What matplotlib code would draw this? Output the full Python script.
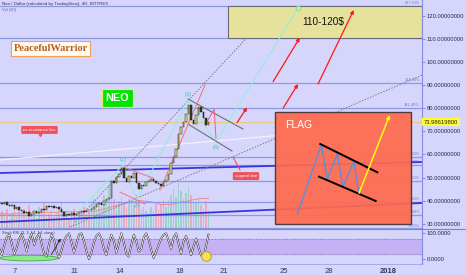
import matplotlib
matplotlib.use("Agg")
import matplotlib.pyplot as plt
import matplotlib.patches as mpatches
import matplotlib.patheffects as pe
import numpy as np
import pandas as pd

plt.rcParams['font.family'] = ['Liberation Sans', 'DejaVu Sans']

# NEO / USD, 4h candles, December 2017 (x = day of December, 32 = Jan 1)
start_day = 5.95
first_open = 39.5
closes = [39.0, 38.5, 39.5, 38.0, 37.5, 38.0, 36.5, 37.0, 36.0, 35.5,
          34.5, 35.0, 33.5, 34.0, 35.5, 34.8, 35.2, 36.5, 36.0, 37.5,
          37.0, 37.8, 36.8, 37.4, 36.2, 35.0, 33.5, 34.0, 33.8, 34.5,
          33.6, 34.2, 35.0, 35.6, 35.2, 36.0, 35.8, 36.4, 37.2, 38.5,
          38.8, 38.2, 39.8, 40.5, 41.0, 48.5, 47.5, 50.2, 51.5, 54.3,
          50.0, 48.0, 50.5, 49.8, 51.8, 47.5, 45.2, 46.8, 46.2, 48.0,
          48.6, 49.2, 48.4, 47.8, 47.2, 46.5, 48.2, 49.0, 51.5, 56.5,
          59.0, 62.5, 69.0, 72.0, 74.0, 77.5, 81.5, 75.0, 73.0, 77.0,
          80.5, 78.5, 76.0, 72.8, 73.99]
volumes = [14, 18, 12, 20, 10, 16, 22, 12, 18, 15,
           20, 14, 24, 12, 18, 10, 22, 16, 26, 12,
           15, 20, 12, 17, 22, 28, 14, 18, 10, 16,
           20, 12, 14, 18, 22, 15, 18, 24, 30, 20,
           26, 22, 34, 28, 44, 38, 30, 24, 28, 32,
           26, 22, 30, 28, 24, 34, 26, 20, 22, 18,
           16, 22, 18, 26, 20, 24, 30, 22, 28, 34,
           40, 32, 46, 38, 30, 36, 42, 34, 28, 26,
           30, 24, 20, 28, 18]
stoch_k = [40, 15, 55, 85, 95, 60, 20, 45, 80, 98,
           70, 30, 75, 100, 55, 85, 100, 60, 20, 10,
           60, 95, 75, 30, 5, 35, 70, 90, 100, 65,
           25, 60, 95, 100, 70, 30, 0, 25, 65, 90,
           100, 80, 40, 15, 60, 95, 70, 25, 60, 100,
           65, 20, 10, 55, 95, 70, 30, 40, 85, 100,
           75, 35, 5, 30, 55, 80, 95, 100, 70, 40,
           85, 100, 60, 20, 70, 90, 55, 15, 50, 80,
           45, 15, 5, 50, 95]
last_price = 73.986198

date_ticks = [7, 11, 14, 18, 21, 25, 28, 32]
date_labels = ["7", "11", "14", "18", "21", "25", "28", "2018"]
price_ticks = [30, 40, 50, 60, 70, 80, 90, 100, 110, 120]

fib_levels = [124.3, 110.5, 91.0, 80.1, 58.9, 55.4, 48.5, 39.4, 33.7, 27.9]
fib_labels = ["227.20%", "200.00%", "161.80%", "141.40%", "78.60%",
              "61.80%", "50.00%", "23.60%", "14.60%", "0.00%"]

# drawings (day, price)
blue_lines = [[(6.0, 51.95), (34.24, 56.72)], [(6.0, 30.71), (34.24, 38.95)]]
ex_res_line = [(6.0, 57.6), (24.4, 68.1)]
dotted_lines = [[(11.02, 30.71), (23.93, 120.44)], [(10.68, 28.54), (34.24, 94.4)]]
wave_pts = [(11.02, 33.74), (14.23, 55.4), (15.17, 40.25), (18.58, 83.6),
            (20.45, 65.39), (25.94, 123.47)]
wave_names = ["", "(1)", "(2)", "(3)", "(4)", ""]
grey_flag = [[(18.58, 84.03), (22.26, 71.02)], [(18.58, 73.19), (21.52, 61.49)]]
pink_lines = [[(14.23, 54.55), (16.24, 49.78)], [(14.03, 43.72), (15.70, 38.51)],
              [(16.71, 44.6), (19.72, 90.1)]]
pink_zigzag = [(19.72, 72.76), (20.33, 79.6), (20.45, 67.1)]
red_arrows = [[(21.86, 73.75), (22.53, 80.43)], [(24.94, 80.0), (25.94, 90.53)],
              [(24.27, 91.53), (26.06, 110.6)], [(27.28, 90.53), (29.67, 122.6)]]
target_box = [(21.26, 110.6), (34.24, 124.34)]
flag_box = [(24.40, 29.84), (33.51, 78.4)]
flag_pole = [(25.90, 34.18), (27.50, 64.09), (27.90, 49.22), (28.57, 60.19),
             (28.95, 46.01), (29.67, 56.85), (30.02, 43.15)]
flag_break = [(30.02, 43.15), (32.08, 77.09)]
flag_channel = [[(27.43, 64.52), (31.25, 52.26)], [(27.35, 50.35), (31.14, 39.81)]]

bg = "#d6d5fb"
fig = plt.figure(figsize=(4.66, 2.75), dpi=100, facecolor=bg)
ax = fig.add_axes([0, 0.1673, 0.9056, 0.8327])
ax_s = fig.add_axes([0, 0.0418, 0.9056, 0.1255], sharex=ax)
ax.set_facecolor(bg)
ax_s.set_facecolor(bg)

t = start_day + np.arange(len(closes)) / 6.0
closes_a = np.array(closes)
opens = np.concatenate(([first_open], closes_a[:-1]))
up = closes_a >= opens

# volume
ax_v = ax.twinx()
ax_v.set_axis_off()
ax_v.set_zorder(0)
ax.set_zorder(1)
ax.patch.set_visible(False)
vol_cols = np.where(up, "#8fd0bf", "#f2a0aa")
ax_v.bar(t, volumes, width=0.1, color=vol_cols, alpha=0.8)
vma = pd.Series(volumes).rolling(20, min_periods=1).mean()
ax_v.plot(t, vma, color="#f08a8a", lw=0.7)
ax_v.set_ylim(0, 229)

# levels
for lv, lb in zip(fib_levels, fib_labels):
    ax.axhline(lv, color="#8c98e8", lw=0.9, zorder=1)
    ax.text(34.1, lv + 0.4, lb, fontsize=2.8, color="#6a7ad8", ha="right", va="bottom", zorder=2)
ax.axhline(last_price, color="#ecc870", lw=0.6, zorder=1)

for ln in blue_lines:
    xs, ys = zip(*ln)
    ax.plot(xs, ys, color="#3636dc", lw=1.3, zorder=2)
xs, ys = zip(*ex_res_line)
ax.plot(xs, ys, color="#f4f0fa", lw=0.9, zorder=2)
for ln in dotted_lines:
    xs, ys = zip(*ln)
    ax.plot(xs, ys, color="#7a7a8a", lw=0.7, ls=(0, (1.5, 1.5)), zorder=2)

# target zone
(x0, y0), (x1, y1) = target_box
ax.add_patch(mpatches.Rectangle((x0, y0), x1 - x0, y1 - y0, fc="#e6e29c", ec="#6a6a7a", lw=0.8, zorder=2))
ax.text(27.62, 117.4, "110-120$", fontsize=7.2, color="#111111", ha="center", va="center", zorder=6)

# wave count
xs, ys = zip(*wave_pts)
ax.plot(xs, ys, color="#8ff0d8", lw=0.8, zorder=3)
for (x, y), nm in zip(wave_pts, wave_names):
    if nm in ("(1)", "(3)"):
        ax.text(x, y + 1.2, nm, fontsize=4, color="#3cc8b8", ha="center", va="bottom", zorder=6)
    elif nm:
        ax.text(x, y - 1.2, nm, fontsize=4, color="#3cc8b8", ha="center", va="top", zorder=6)
ax.plot(*wave_pts[-1], marker="o", ms=3.5, mfc="#b8f0b0", mec="#88d888", mew=0.5, zorder=6)

for ln in grey_flag:
    xs, ys = zip(*ln)
    ax.plot(xs, ys, color="#6e6e7a", lw=0.8, zorder=3)
for ln in pink_lines:
    xs, ys = zip(*ln)
    ax.plot(xs, ys, color="#f07080", lw=0.7, zorder=3)
xs, ys = zip(*pink_zigzag)
ax.plot(xs, ys, color="#f06070", lw=0.7, zorder=3)
for a, b in red_arrows:
    ax.annotate("", xy=b, xytext=a, zorder=5,
                arrowprops=dict(arrowstyle="-|>", color="#ff1818", lw=0.9, mutation_scale=5,
                                shrinkA=0, shrinkB=0))

# candles
body_cols = np.where(up, "#e4e488", "#3a3a22")
ax.bar(t, closes_a - opens, bottom=opens, width=0.1, color=body_cols,
       edgecolor="#1c1c10", linewidth=0.35, zorder=4)

# flag illustration
(x0, y0), (x1, y1) = flag_box
ax.add_patch(mpatches.Rectangle((x0, y0), x1 - x0, y1 - y0, fc="#ff6a4e", ec="#4a3434",
                                lw=1.0, alpha=0.93, zorder=5))
ax.text(25.07, 72.76, "FLAG", fontsize=7.5, color="white", ha="left", va="center", zorder=6)
xs, ys = zip(*flag_pole)
ax.plot(xs, ys, color="#5a8ee0", lw=1.0, zorder=6)
for ln in flag_channel:
    xs, ys = zip(*ln)
    ax.plot(xs, ys, color="black", lw=1.4, zorder=6)
ax.annotate("", xy=flag_break[1], xytext=flag_break[0], zorder=7,
            arrowprops=dict(arrowstyle="-|>", color="#ffff10", lw=1.1, mutation_scale=5,
                            shrinkA=0, shrinkB=0))

# labels
ax.text(9.38, 105.9, "PeacefulWarrior", family=["Liberation Serif", "DejaVu Serif"], fontweight="bold",
        fontsize=7.5, color="#b8601a", ha="center", va="center", zorder=6,
        bbox=dict(boxstyle="square,pad=0.25", fc="#fffaf2", ec="#f0a050", lw=0.8))
ax.text(13.86, 84.46, "NEO", fontweight="bold", fontsize=7.8, color="white", ha="center",
        va="center", zorder=6, bbox=dict(boxstyle="square,pad=0.35", fc="#00e400", ec="#e8e870", lw=0.9))
ax.text(8.64, 70.6, "ex-resistance line", fontsize=3.1, color="white", ha="center", va="center",
        zorder=6, bbox=dict(boxstyle="round,pad=0.45,rounding_size=0.3", fc="#f0505a", ec="none"))
ax.plot(8.67, 69.0, marker="v", ms=3, color="#f0505a", zorder=6)
ax.text(22.46, 50.6, "support line", fontsize=3.2, color="white", ha="center", va="center",
        zorder=6, bbox=dict(boxstyle="round,pad=0.45,rounding_size=0.3", fc="#f0505a", ec="none"))
ax.plot([21.59, 22.06], [58.88, 53.25], color="#f0505a", lw=0.8, zorder=6)

ax.text(0.004, 0.993, "Neo / Dollar (calculated by TradingView), 4H, BITTREX", transform=ax.transAxes,
        fontsize=3.2, color="#333355", va="top", ha="left", zorder=6)
ax.text(0.004, 0.965, "Vol (20)", transform=ax.transAxes, fontsize=3.0, color="#666688",
        va="top", ha="left", zorder=6)

ax.set_xlim(5.996, 34.24)
ax.set_ylim(27.68, 126.94)
ax.yaxis.tick_right()
ax.set_yticks(price_ticks)
ax.set_yticklabels([f"{v:.8f}" for v in price_ticks])
ax.tick_params(axis="y", labelsize=4.2, labelcolor="#2a2a55", length=2, color="#8a8ae8", pad=1.5)
ax.tick_params(axis="x", bottom=False, labelbottom=False)
for s in ["left", "top", "bottom"]:
    ax.spines[s].set_visible(False)
ax.spines["right"].set_color("#8a8ae8")
ax.spines["right"].set_linewidth(0.8)
ax.text(1.004, last_price, f"{last_price:.8f}", transform=ax.get_yaxis_transform(), fontsize=4.2,
        color="#222222", ha="left", va="center", zorder=8, clip_on=False,
        bbox=dict(boxstyle="square,pad=0.3", fc="#ffff30", ec="none"))

# stoch rsi
ax_s.axhspan(20, 80, color="#c5b1f6", zorder=0)
for lv in (80, 20):
    ax_s.axhline(lv, color="#7a7a9a", lw=0.5, ls=(0, (2, 2)), zorder=1)
ax_s.plot(t, stoch_k, color="white", lw=0.6, zorder=3,
          path_effects=[pe.Stroke(linewidth=1.3, foreground="#222222"), pe.Normal()])
ax_s.add_patch(mpatches.Ellipse((7.95, 4), 3.9, 22, fc="#8ee890", ec="#40b040", lw=0.6, zorder=2))
ax_s.plot(19.8, 13, marker="o", ms=7, mfc="#f0e060", mec="#c8a000", mew=0.7, zorder=4)
ax_s.annotate("", xy=(10.15, 89), xytext=(9.34, 8), zorder=4,
              arrowprops=dict(arrowstyle="-|>", color="#222222", lw=0.6, mutation_scale=4))
ax_s.text(0.004, 0.93, "Stoch RSI (3, 3, 14, 14, close)", transform=ax_s.transAxes, fontsize=2.8,
          color="#333355", va="top", ha="left", zorder=5)
ax_s.set_ylim(-17, 117)
ax_s.yaxis.tick_right()
ax_s.set_yticks([0, 100])
ax_s.set_yticklabels(["0.0000", "100.0000"])
ax_s.tick_params(axis="y", labelsize=4.2, labelcolor="#2a2a55", length=2, color="#8a8ae8", pad=1.5)
ax_s.set_xticks(date_ticks)
ax_s.set_xticklabels(date_labels)
ax_s.tick_params(axis="x", labelsize=5.5, labelcolor="#333355", length=0, pad=3)
for lb in ax_s.get_xticklabels():
    if lb.get_text() == "2018":
        lb.set_fontweight("bold")
ax_s.spines["left"].set_visible(False)
ax_s.spines["top"].set_color("#7f7fe0")
ax_s.spines["top"].set_linewidth(0.8)
ax_s.spines["right"].set_color("#8a8ae8")
ax_s.spines["bottom"].set_color("#a0a0ec")
ax_s.spines["bottom"].set_linewidth(0.6)
fig.add_artist(plt.Line2D([0.9056, 1.0], [0.1673, 0.1673], color="#7f7fe0", lw=0.8))

fig.savefig("out.png", dpi=100, facecolor=bg)
